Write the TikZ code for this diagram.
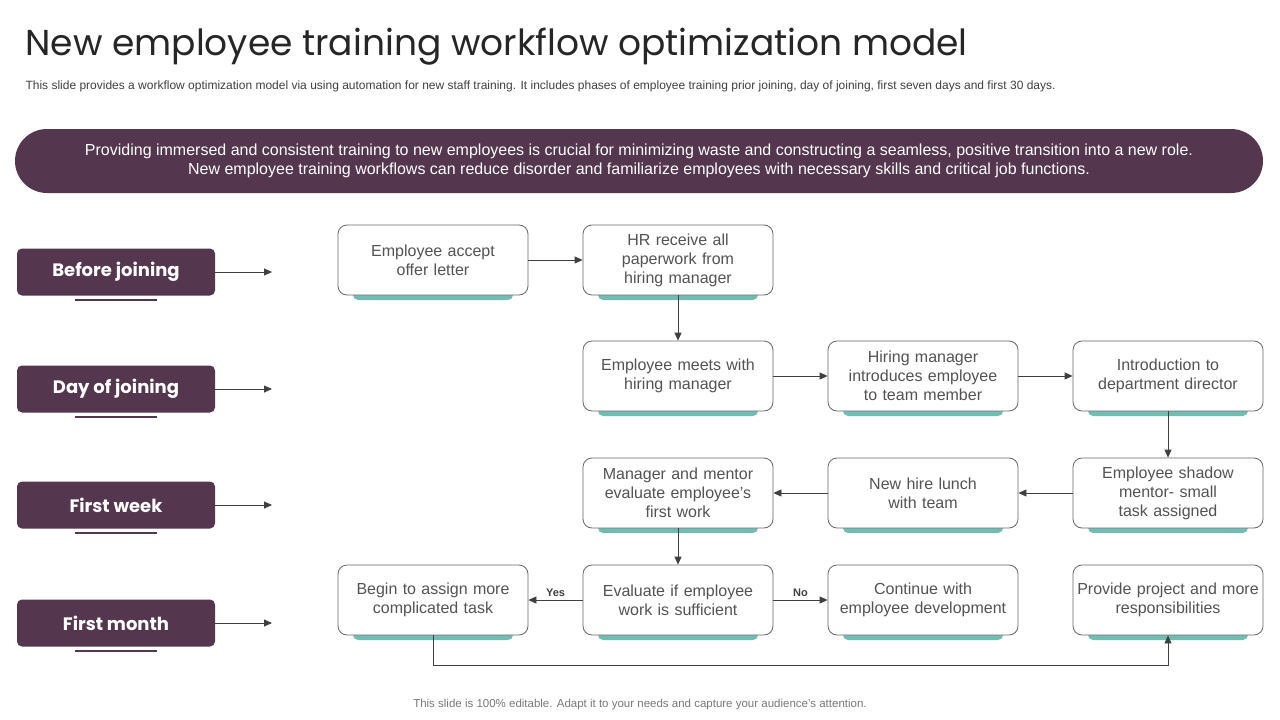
\documentclass[tikz,border=0pt]{standalone}
\usepackage{fontspec}
\setmainfont{Liberation Sans}
\newfontfamily\titlefont{Poppins}
\usetikzlibrary{arrows.meta}
\definecolor{plum}{HTML}{54364E}
\definecolor{teal}{HTML}{72BDB3}
\definecolor{txt}{HTML}{404040}
\begin{document}
\begin{tikzpicture}[x=1pt,y=-1pt,
  box/.style={draw=txt!80,line width=0.8pt,fill=white,rounded corners=9pt,minimum width=190pt,minimum height=70pt,text width=188pt,inner xsep=1pt,align=center,font=\fontsize{16}{19}\selectfont,text=txt!90},
  phase/.style={fill=plum,rounded corners=5pt,minimum width=198pt,minimum height=47pt,text=white,font=\titlefont\bfseries\fontsize{18}{20}\selectfont},
  arr/.style={-{Triangle[length=8pt,width=7pt]},draw=txt,line width=0.8pt}]
\useasboundingbox (0,0) rectangle (1280,720);
\fill[white] (0,0) rectangle (1280,720);
\node[anchor=west,font=\titlefont\fontsize{36}{40}\selectfont,text=black!85] (title) at (22,47) {New employee training workflow optimization model};
\node[anchor=west,font=\fontsize{12}{14}\selectfont,text=txt] (sub) at (22,86) {This slide provides a workflow optimization model via using automation for new staff training. It includes phases of employee training prior joining, day of joining, first seven days and first 30 days.};
\node[fill=plum,rounded corners=32pt,minimum width=1248pt,minimum height=64pt,text=white,align=center,font=\fontsize{16}{19}\selectfont] (banner) at (639,161) {Providing immersed and consistent training to new employees is crucial for minimizing waste and constructing a seamless, positive transition into a new role.\\New employee training workflows can reduce disorder and familiarize employees with necessary skills and critical job functions.};
% phases
\foreach \n/\t/\y in {p1/Before joining/272,p2/Day of joining/389,p3/First week/505,p4/First month/623}{
  \node[phase] (\n) at (116,\y) {\t};
  \draw[plum,line width=2pt] (75,\y+28) -- (157,\y+28);
  \coordinate (\n e) at (272,\y);
  \draw[arr] (\n) -- (\n e);
}
% boxes
\newcommand\mybox[4]{%
  \fill[teal,rounded corners=5pt] (#2-80,#3+20) rectangle (#2+80,#3+40);
  \node[box] (#1) at (#2,#3) {#4};}
\mybox{a}{433}{260}{Employee accept\\offer letter}
\mybox{b}{678}{260}{HR receive all\\paperwork from\\hiring manager}
\mybox{c}{678}{376}{Employee meets with\\hiring manager}
\mybox{d}{923}{376}{Hiring manager\\introduces employee\\to team member}
\mybox{e}{1168}{376}{Introduction to\\department director}
\mybox{f}{1168}{493}{Employee shadow\\mentor- small\\task assigned}
\mybox{g}{923}{493}{New hire lunch\\with team}
\mybox{h}{678}{493}{Manager and mentor\\evaluate employee’s\\first work}
\mybox{i}{678}{600}{Evaluate if employee\\work is sufficient}
\mybox{j}{433}{600}{Begin to assign more\\complicated task}
\mybox{k}{923}{600}{Continue with\\employee development}
\mybox{l}{1168}{600}{Provide project and more\\responsibilities}
\draw[arr] (a) -- (b);
\draw[arr] (b) -- (c);
\draw[arr] (c) -- (d);
\draw[arr] (d) -- (e);
\draw[arr] (e) -- (f);
\draw[arr] (f) -- (g);
\draw[arr] (g) -- (h);
\draw[arr] (h) -- (i);
\draw[arr] (i) -- node[above,font=\bfseries\fontsize{11}{12}\selectfont,text=txt]{Yes} (j);
\draw[arr] (i) -- node[above,font=\bfseries\fontsize{11}{12}\selectfont,text=txt]{No} (k);
\draw[arr] (j.south) -- ++(0,30) -| (l.south);
\node[font=\fontsize{11.5}{13}\selectfont,text=txt!70] (foot) at (640,705) {This slide is 100\% editable. Adapt it to your needs and capture your audience’s attention.};
\end{tikzpicture}
\end{document}
